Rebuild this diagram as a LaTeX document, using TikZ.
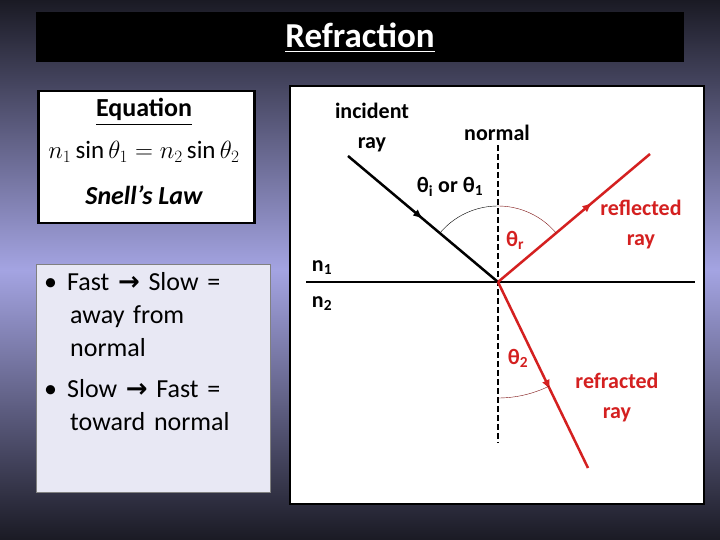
\documentclass[tikz,border=0pt]{standalone}
\usepackage{fontspec}
\setmainfont{Carlito}
\newfontfamily\dvs{DejaVu Sans}
\usepackage{amsmath}
\usetikzlibrary{decorations.markings,arrows.meta}
\definecolor{lav}{HTML}{A4A4E2}
\definecolor{dk}{HTML}{1A1A24}
\definecolor{rd}{HTML}{D42020}
\definecolor{pale}{HTML}{E8E8F4}
\tikzset{
  mid/.style={postaction={decorate},decoration={markings,mark=at position #1 with {\arrow{Latex[length=10pt,width=8pt]}}}},
  lbl/.style={font=\fontsize{22}{30}\selectfont\bfseries,align=center},
  rlbl/.style={lbl,text=rd}
}
\newcommand{\thsub}[1]{θ\textsubscript{#1}}
\begin{document}
\begin{tikzpicture}[x=1pt,y=1pt]
\useasboundingbox (0,0) rectangle (720,540);
\shade[top color=dk,bottom color=dk,middle color=lav] (0,0) rectangle (720,540);
\node[fill=black,minimum width=648,minimum height=50,anchor=north west,inner sep=0] (title) at (36,528) {};
\node[text=white,font=\fontsize{35}{38}\selectfont\bfseries] at (360,502) {\underline{Refraction}};
% equation box
\node[draw=black,line width=2.5pt,fill=white,minimum width=216,minimum height=132,anchor=north west,inner sep=0] (eqbox) at (37,450) {};
\node[font=\fontsize{26}{28}\selectfont\bfseries] (eqt) at (144,428) {\underline{Equation}};
\node[font=\fontsize{25}{28}\selectfont] (eq) at (144,388) {$n_1\sin\theta_1=n_2\sin\theta_2$};
\node[font=\fontsize{26}{28}\selectfont\bfseries\itshape] (snell) at (144,345) {Snell’s Law};
% bullet box
\node[draw=gray,fill=pale,minimum width=234,minimum height=228,anchor=north west,inner sep=0] (bbox) at (36,276) {};
\node[anchor=north west,font=\fontsize{26}{33}\selectfont,align=left,text width=230,inner sep=0] (bul) at (44,268) {%
\textbullet\hspace{10pt}Fast {\dvs\bfseries →} Slow =\\
\hspace{26pt}away from\\
\hspace{26pt}normal\\[8pt]
\textbullet\hspace{10pt}Slow {\dvs\bfseries →} Fast =\\
\hspace{26pt}toward normal};
% diagram panel
\node[draw=black,line width=2pt,fill=white,minimum width=414,minimum height=418,anchor=north west,inner sep=0] (panel) at (289,455) {};
\coordinate (O) at (498,258);
\coordinate (inc) at (348,384);
\coordinate (refl) at (650,386);
\coordinate (refr) at (588,72);
\coordinate (nt) at (498,395);
\coordinate (nb) at (498,97);
\coordinate (il) at (306,258);
\coordinate (ir) at (695,258);
\draw[line width=2pt] (il) -- (ir);
\draw[line width=2pt,dash pattern=on 6pt off 3pt] (nt) -- (nb);
\draw[line width=2.5pt,mid=0.5] (inc) -- (O);
\draw[line width=2.5pt,rd,mid=0.62] (O) -- (refl);
\draw[line width=2.5pt,rd,mid=0.58] (O) -- (refr);
\draw[thin] ([shift={(140:76)}]O) arc[start angle=140,end angle=90,radius=76];
\draw[thin,rd!60!black] ([shift={(90:76)}]O) arc[start angle=90,end angle=40,radius=76];
\draw[thin,rd!60!black] ([shift={(-90:116)}]O) arc[start angle=-90,end angle=-64,radius=116];
\node[lbl] at (372,412) {incident\\ray};
\node[lbl] at (497,407) {normal};
\node[lbl] at (450,353) {\thsub{i} or \thsub{1}};
\node[rlbl] at (515,300) {\thsub{r}};
\node[rlbl] at (641,315) {reflected\\ray};
\node[lbl] at (322,272) {n\textsubscript{1}};
\node[lbl] at (322,236) {n\textsubscript{2}};
\node[rlbl] at (518,182) {\thsub{2}};
\node[rlbl] at (617,142) {refracted\\ray};
\end{tikzpicture}
\end{document}
